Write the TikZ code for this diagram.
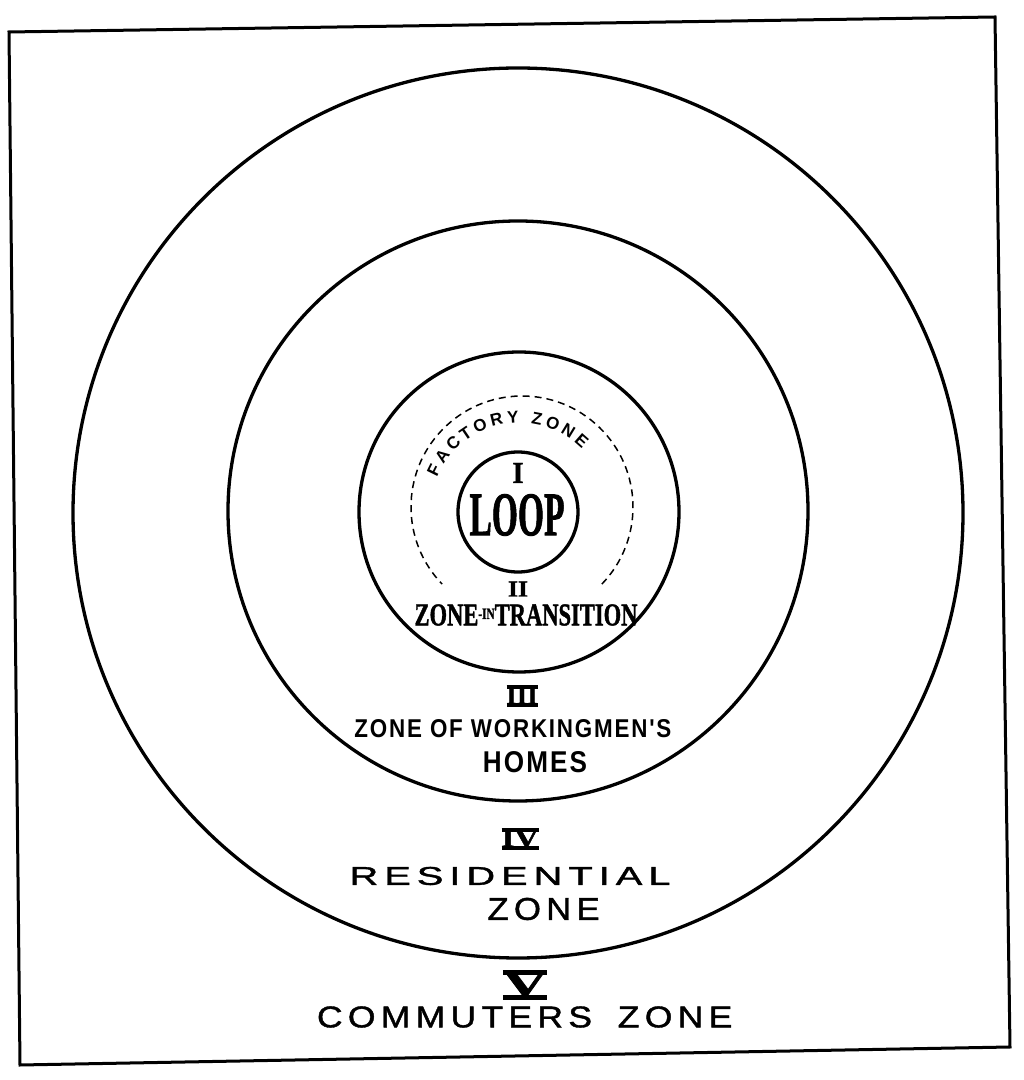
\documentclass[tikz,border=0pt]{standalone}
\usepackage{fontspec}
\usetikzlibrary{decorations.text}
\newfontfamily\sansW[LetterSpace=15,FakeBold=1.2]{Liberation Sans}
\newfontfamily\sansM[LetterSpace=8]{Liberation Sans}
\newfontfamily\sansF{Liberation Sans}
\newfontfamily\serifH[FakeBold=1.5]{Liberation Serif}
\newcommand\barnum[1]{\setbox0=\hbox{\serifH\bfseries #1}\vbox{\hrule width\wd0 height 1.4pt\kern-0.6pt\copy0\kern-0.3pt\hrule width\wd0 height 1.4pt}}
\begin{document}
\begin{tikzpicture}[x=1pt,y=1pt,
  ring/.style={circle, draw, line width=3.3pt, inner sep=0pt},
  lbl/.style={inner sep=0pt, anchor=center},
  frame/.style={line width=3pt, line join=miter},
  dashring/.style={line width=1.5pt, dash pattern=on 7pt off 5pt}]
\useasboundingbox (0,0) rectangle (1024,1080);
\draw[frame] (9,1048) -- (995,1063) -- (1010,33) -- (20,15) -- cycle;

\node[ring, minimum size=890pt] (outer) at (518,567) {};
\node[ring, minimum size=580pt] (workers) at (518,569) {};
\node[ring, minimum size=320pt] (transition) at (519,568) {};
\coordinate (fc) at (522,573);
\draw[dashring] (fc) ++(-44:111) arc[start angle=-44, end angle=224, radius=111];
\node[ring, minimum size=120pt] (loop) at (518,568) {};

\path[decorate, decoration={text along path, text align={fit to path},
  text={|\sansF\bfseries\fontsize{17}{17}\selectfont|FACTORY ZONE}}]
  (519,568) ++(157:89) arc[start angle=157, end angle=45, radius=89];

\node[lbl] (nI) at (518,607) {\resizebox{11pt}{20pt}{\serifH\bfseries I}};
\node[lbl] (nloop) at (517,565) {\resizebox{95pt}{41pt}{\serifH\bfseries LOOP}};
\node[lbl] (nII) at (518,491) {\resizebox{20pt}{15pt}{\serifH\bfseries II}};
\node[lbl] (ntrans) at (526,465) {\resizebox{223pt}{21pt}{\serifH\bfseries ZONE\raisebox{2pt}{\tiny -IN}TRANSITION}};

\node[lbl] (nIII) at (522,384) {\resizebox{31pt}{22pt}{\barnum{III}}};
\node[lbl] (nwork) at (512,351) {\resizebox{315pt}{18pt}{\sansM\bfseries ZONE OF WORKINGMEN'S\kern-0.08em}};
\node[lbl] (nhomes) at (534,318) {\resizebox{102pt}{21pt}{\sansM\bfseries HOMES\kern-0.08em}};

\node[lbl] (nIV) at (520,241) {\resizebox{37pt}{22pt}{\barnum{IV}}};
\node[lbl] (nres) at (507,204) {\resizebox{315pt}{18pt}{\sansW RESIDENTIAL\kern-0.15em}};
\node[lbl] (nzone) at (541,171) {\resizebox{107pt}{22pt}{\sansW ZONE\kern-0.15em}};

\node[lbl] (nV) at (525,95) {\resizebox{44pt}{30pt}{\barnum{V}}};
\node[lbl] (ncomm) at (522,63) {\resizebox{410pt}{21pt}{\sansW COMMUTERS\hspace{0.3em} ZONE\kern-0.15em}};
\end{tikzpicture}
\end{document}
